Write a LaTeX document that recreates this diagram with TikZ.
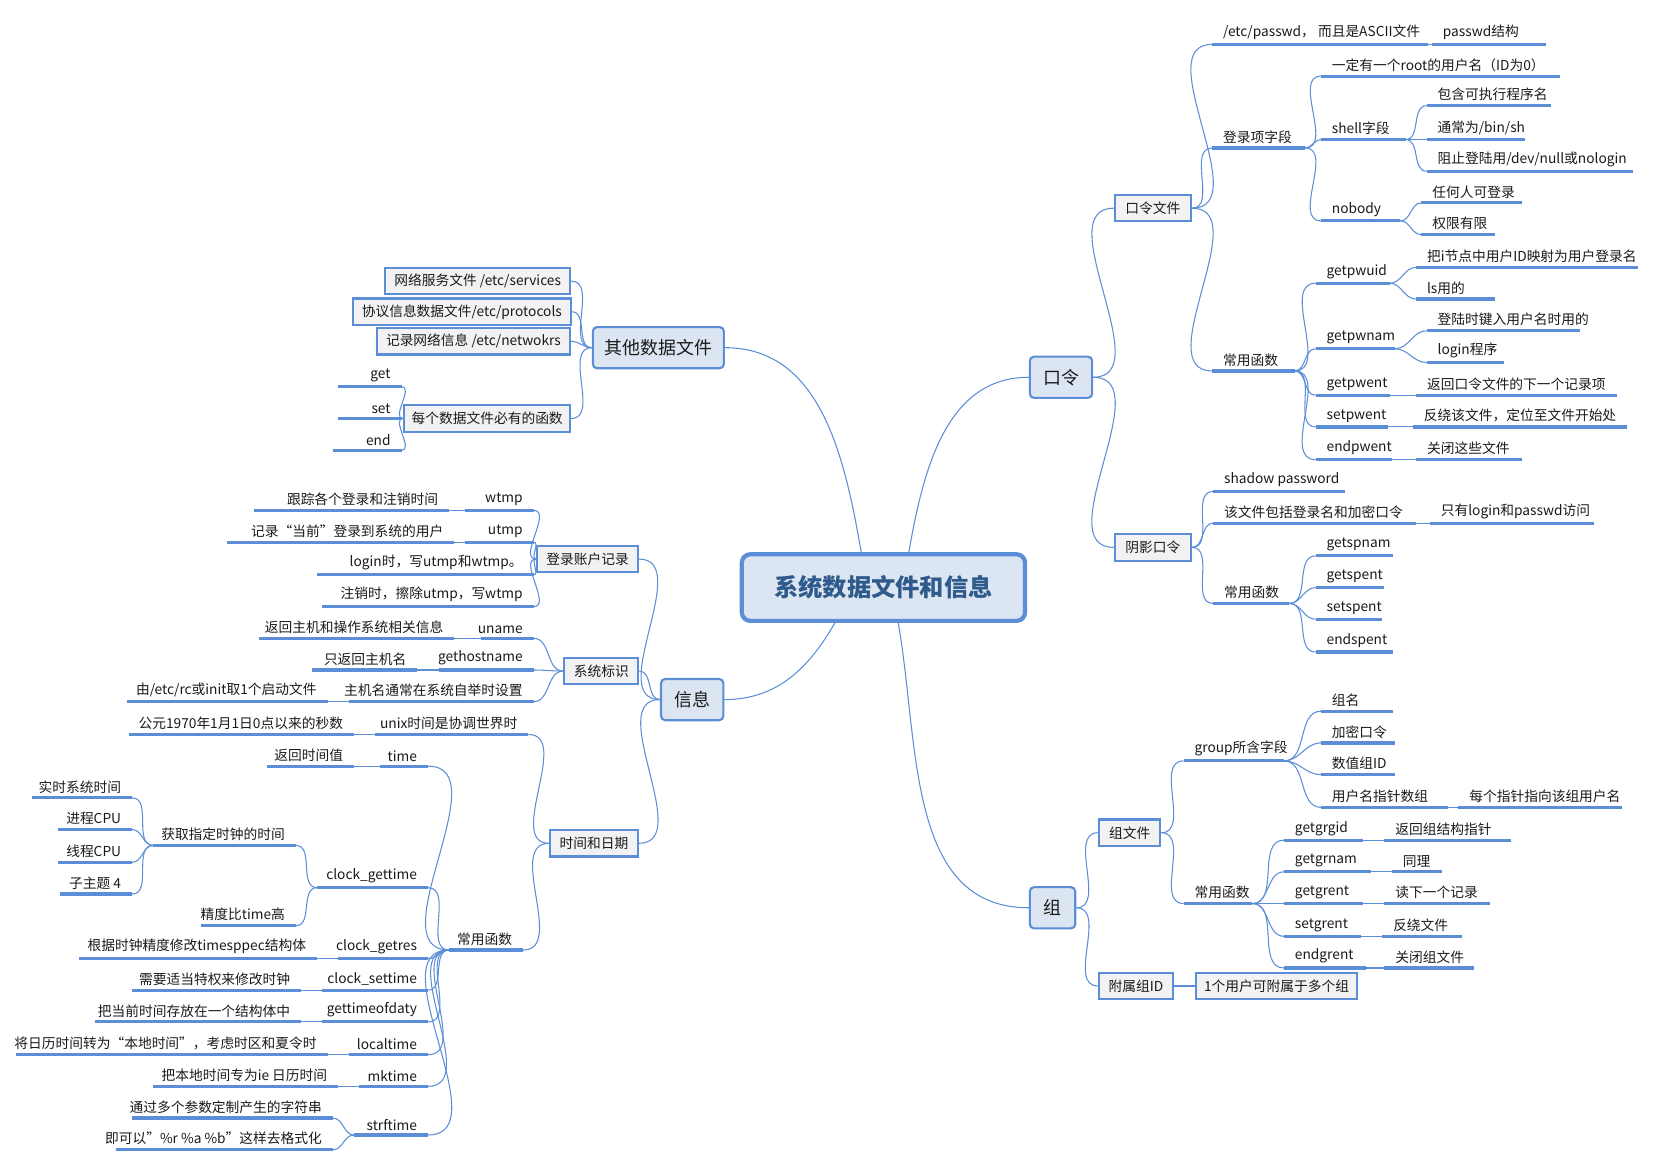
\documentclass[tikz,border=0pt]{standalone}
\usepackage{fontspec}
\setmainfont{Noto Sans CJK SC}
\definecolor{lb}{HTML}{5B8ED6}
\definecolor{txt}{HTML}{1A1A1A}
\definecolor{boxg}{HTML}{F2F2F2}
\definecolor{boxb}{HTML}{DCE6F2}
\definecolor{ctrt}{HTML}{2F5A8C}
\newcommand\RL[5]{\coordinate (#1-w) at (#2,#4);\coordinate (#1-e) at (#3,#4);\draw[ul] (#1-w)--(#1-e);\node[lt,anchor=south west] (#1) at ({#2+8},{#4-2}) {#5};}
\newcommand\LL[5]{\coordinate (#1-w) at (#2,#4);\coordinate (#1-e) at (#3,#4);\draw[ul] (#1-w)--(#1-e);\node[lt,anchor=south east] (#1) at ({#3-8},{#4-2}) {#5};}
\newcommand\cnR[2]{\draw[cn] (#1) to[out=0,in=180] (#2);}
\newcommand\cnL[2]{\draw[cn] (#1) to[out=180,in=0] (#2);}
\begin{document}
\begin{tikzpicture}[x=0.5pt,y=-0.5pt,
 ul/.style={line width=1.5pt,draw=lb},
 cn/.style={line width=0.5pt,draw=lb},
 lt/.style={font=\fontsize{6.5}{7}\selectfont,inner sep=1pt,text=txt},
 bx/.style={draw=lb,line width=1pt,fill=boxg,font=\fontsize{6.5}{7}\selectfont,inner sep=0pt,text=txt,minimum height=12.5pt},
 mb/.style={draw=lb,line width=1pt,fill=boxb,rounded corners=2pt,font=\fontsize{8.5}{9}\selectfont,inner sep=0pt,text=txt,minimum height=19.5pt}]
\useasboundingbox (0,0) rectangle (1568,1105);
% center
\node[draw=lb,line width=2pt,fill=boxb,rounded corners=4pt,minimum width=134pt,minimum height=31.5pt,font=\fontsize{11.5}{12}\selectfont\bfseries,text=ctrt] (ctr) at (836,556) {系统数据文件和信息};
\path (ctr.north) ++(-21,0) coordinate (c1) ++(45,0) coordinate (c2);
\path (ctr.south) ++(-46,0) coordinate (c3) ++(60,0) coordinate (c4);
\node[mb,minimum width=62pt] (other) at (623,329) {其他数据文件};
\node[mb,minimum width=29.5pt] (pw) at (1004,357) {口令};
\node[mb,minimum width=29.5pt] (info) at (655,662) {信息};
\node[mb,minimum width=21.5pt] (grp) at (996,859) {组};
\draw[cn] (c1) to[out=100,in=0] (other.east);
\draw[cn] (c2) to[out=80,in=180] (pw.west);
\draw[cn] (c3) to[out=-120,in=0] (info.east);
\draw[cn] (c4) to[out=-80,in=180] (grp.west);
% ===== 口令
\node[bx,minimum width=36pt] (pwf) at (1091,197) {口令文件};
\node[bx,minimum width=36pt] (shd) at (1091,518) {阴影口令};
\cnR{pw.east}{pwf.west}\cnR{pw.east}{shd.west}
\RL{etc}{1147}{1351}{42}{/etc/passwd， 而且是ASCII文件}
\RL{pst}{1355}{1463}{42}{passwd结构}
\draw[cn] (etc-e)--(pst-w);
\RL{dlx}{1147}{1235}{140}{登录项字段}
\RL{root}{1250}{1476}{72}{一定有一个root的用户名（ID为0）}
\RL{shl}{1250}{1330}{132}{shell字段}
\RL{sh1}{1350}{1468}{100}{包含可执行程序名}
\RL{sh2}{1350}{1443}{132}{通常为/bin/sh}
\RL{sh3}{1350}{1545}{162}{阻止登陆用/dev/null或nologin}
\RL{nob}{1250}{1325}{209}{nobody}
\RL{nb1}{1345}{1440}{192}{任何人可登录}
\RL{nb2}{1345}{1415}{222}{权限有限}
\RL{cyf}{1147}{1225}{351}{常用函数}
\RL{gpu}{1245}{1315}{268}{getpwuid}
\RL{gu1}{1340}{1550}{253}{把i节点中用户ID映射为用户登录名}
\RL{gu2}{1340}{1415}{283}{ls用的}
\RL{gpn}{1245}{1320}{330}{getpwnam}
\RL{gn1}{1350}{1495}{313}{登陆时键入用户名时用的}
\RL{gn2}{1350}{1423}{343}{login程序}
\RL{gpe}{1245}{1315}{374}{getpwent}
\RL{ge1}{1340}{1530}{374}{返回口令文件的下一个记录项}
\RL{spe}{1245}{1313}{404}{setpwent}
\RL{se1}{1337}{1540}{404}{反绕该文件，定位至文件开始处}
\RL{epe}{1245}{1317}{435}{endpwent}
\RL{ee1}{1340}{1440}{435}{关闭这些文件}
\cnR{pwf.east}{etc-w}\cnR{pwf.east}{dlx-w}\cnR{pwf.east}{cyf-w}
\cnR{dlx-e}{root-w}\cnR{dlx-e}{shl-w}\cnR{dlx-e}{nob-w}
\cnR{shl-e}{sh1-w}\cnR{shl-e}{sh2-w}\cnR{shl-e}{sh3-w}
\cnR{nob-e}{nb1-w}\cnR{nob-e}{nb2-w}
\cnR{cyf-e}{gpu-w}\cnR{cyf-e}{gpn-w}\cnR{cyf-e}{gpe-w}\cnR{cyf-e}{spe-w}\cnR{cyf-e}{epe-w}
\cnR{gpu-e}{gu1-w}\cnR{gpu-e}{gu2-w}\cnR{gpn-e}{gn1-w}\cnR{gpn-e}{gn2-w}
\draw[cn] (gpe-e)--(ge1-w);\draw[cn] (spe-e)--(se1-w);\draw[cn] (epe-e)--(ee1-w);
\RL{sp}{1148}{1273}{465}{shadow password}
\RL{sfi}{1148}{1340}{495}{该文件包括登录名和加密口令}
\RL{sfo}{1353}{1508}{495}{只有login和passwd访问}
\draw[cn] (sfi-e)--(sfo-w);
\RL{scy}{1148}{1220}{571}{常用函数}
\RL{s1}{1245}{1318}{526}{getspnam}
\RL{s2}{1245}{1310}{556}{getspent}
\RL{s3}{1245}{1308}{586}{setspent}
\RL{s4}{1245}{1318}{617}{endspent}
\cnR{shd.east}{sp-w}\cnR{shd.east}{sfi-w}\cnR{shd.east}{scy-w}
\cnR{scy-e}{s1-w}\cnR{scy-e}{s2-w}\cnR{scy-e}{s3-w}\cnR{scy-e}{s4-w}
% ===== 组
\node[bx,minimum width=29pt] (gf) at (1069,788) {组文件};
\node[bx,minimum width=35pt] (sub) at (1075,933) {附属组ID};
\node[bx,minimum width=76pt] (subx) at (1208,933) {1个用户可附属于多个组};
\cnR{grp.east}{gf.west}\cnR{grp.east}{sub.west}
\draw[cn] (sub.east)--(subx.west);
\RL{gfd}{1120}{1215}{720}{group所含字段}
\RL{f1}{1250}{1318}{673}{组名}
\RL{f2}{1250}{1320}{703}{加密口令}
\RL{f3}{1250}{1320}{733}{数值组ID}
\RL{f4}{1250}{1370}{764}{用户名指针数组}
\RL{f4x}{1380}{1535}{764}{每个指针指向该组用户名}
\draw[cn] (f4-e)--(f4x-w);
\RL{gcy}{1120}{1185}{855}{常用函数}
\RL{g1}{1215}{1290}{795}{getgrgid}\RL{g1x}{1310}{1430}{795}{返回组结构指针}
\RL{g2}{1215}{1297}{825}{getgrnam}\RL{g2x}{1317}{1365}{825}{同理}
\RL{g3}{1215}{1290}{855}{getgrent}\RL{g3x}{1310}{1410}{855}{读下一个记录}
\RL{g4}{1215}{1288}{886}{setgrent}\RL{g4x}{1308}{1383}{886}{反绕文件}
\RL{g5}{1215}{1293}{916}{endgrent}\RL{g5x}{1310}{1395}{916}{关闭组文件}
\cnR{gf.east}{gfd-w}\cnR{gf.east}{gcy-w}
\cnR{gfd-e}{f1-w}\cnR{gfd-e}{f2-w}\cnR{gfd-e}{f3-w}\cnR{gfd-e}{f4-w}
\cnR{gcy-e}{g1-w}\cnR{gcy-e}{g2-w}\cnR{gcy-e}{g3-w}\cnR{gcy-e}{g4-w}\cnR{gcy-e}{g5-w}
\draw[cn] (g1-e)--(g1x-w);\draw[cn] (g2-e)--(g2x-w);\draw[cn] (g3-e)--(g3x-w);\draw[cn] (g4-e)--(g4x-w);\draw[cn] (g5-e)--(g5x-w);
% ===== 其他数据文件
\node[bx,minimum width=87.5pt] (o1) at (452,266) {网络服务文件 /etc/services};
\node[bx,minimum width=103pt] (o2) at (437,295) {协议信息数据文件/etc/protocols};
\node[bx,minimum width=91.5pt] (o3) at (448,323) {记录网络信息 /etc/netwokrs};
\node[bx,minimum width=78.5pt] (o4) at (461,396) {每个数据文件必有的函数};
\cnL{other.west}{o1.east}\cnL{other.west}{o2.east}\cnL{other.west}{o3.east}\cnL{other.west}{o4.east}
\LL{get}{320}{380}{366}{get}
\LL{set}{320}{380}{396}{set}
\LL{end}{315}{380}{426}{end}
\cnL{o4.west}{get-e}\cnL{o4.west}{set-e}\cnL{o4.west}{end-e}
% ===== 信息
\node[bx,minimum width=47.5pt] (lr) at (556,529) {登录账户记录};
\node[bx,minimum width=35pt] (si) at (569,635) {系统标识};
\node[bx,minimum width=41.5pt] (td) at (562,798) {时间和日期};
\cnL{info.west}{lr.east}\cnL{info.west}{si.east}\cnL{info.west}{td.east}
\LL{wt}{440}{505}{483}{wtmp}\LL{wtx}{240}{425}{483}{跟踪各个登录和注销时间}
\LL{ut}{440}{505}{513}{utmp}\LL{utx}{215}{430}{513}{记录“当前”登录到系统的用户}
\LL{lg}{300}{505}{544}{login时，写utmp和wtmp。}
\LL{lo}{305}{505}{574}{注销时，擦除utmp，写wtmp}
\draw[cn] (wt-w)--(wtx-e);\draw[cn] (ut-w)--(utx-e);
\cnL{lr.west}{wt-e}\cnL{lr.west}{ut-e}\cnL{lr.west}{lg-e}\cnL{lr.west}{lo-e}
\LL{un}{455}{505}{604}{uname}\LL{unx}{245}{430}{604}{返回主机和操作系统相关信息}
\LL{gh}{415}{505}{634}{gethostname}\LL{ghx}{295}{395}{634}{只返回主机名}
\LL{hn}{330}{505}{664}{主机名通常在系统自举时设置}\LL{hnx}{120}{310}{664}{由/etc/rc或init取1个启动文件}
\draw[cn] (un-w)--(unx-e);\draw[cn] (gh-w)--(ghx-e);\draw[cn] (hn-w)--(hnx-e);
\cnL{si.west}{un-e}\cnL{si.west}{gh-e}\cnL{si.west}{hn-e}
\LL{ux}{355}{500}{695}{unix时间是协调世界时}\LL{uxx}{122}{335}{695}{公元1970年1月1日0点以来的秒数}
\draw[cn] (ux-w)--(uxx-e);
\LL{tcy}{425}{495}{899}{常用函数}
\cnL{td.west}{ux-e}\cnL{td.west}{tcy-e}
\LL{tm}{360}{405}{725}{time}\LL{tmx}{253}{335}{725}{返回时间值}
\LL{cg}{300}{405}{840}{clock\_gettime}
\LL{cgx}{145}{280}{800}{获取指定时钟的时间}
\LL{k1}{30}{125}{755}{实时系统时间}
\LL{k2}{55}{125}{785}{进程CPU}
\LL{k3}{55}{125}{816}{线程CPU}
\LL{k4}{57}{125}{846}{子主题 4}
\LL{cgy}{190}{280}{876}{精度比time高}
\LL{cr}{320}{405}{907}{clock\_getres}\LL{crx}{75}{300}{907}{根据时钟精度修改timesppec结构体}
\LL{cs}{305}{405}{937}{clock\_settime}\LL{csx}{125}{285}{937}{需要适当特权来修改时钟}
\LL{gt}{305}{405}{967}{gettimeofdaty}\LL{gtx}{90}{285}{967}{把当前时间存放在一个结构体中}
\LL{lt}{330}{405}{998}{localtime}\LL{ltx}{15}{310}{998}{将日历时间转为“本地时间”，考虑时区和夏令时}
\LL{mk}{340}{405}{1028}{mktime}\LL{mkx}{145}{320}{1028}{把本地时间专为ie 日历时间}
\LL{sf}{335}{405}{1074}{strftime}
\LL{sf1}{125}{315}{1058}{通过多个参数定制产生的字符串}
\LL{sf2}{110}{315}{1088}{即可以"\%r \%a \%b"这样去格式化}
\draw[cn] (tm-w)--(tmx-e);\draw[cn] (cr-w)--(crx-e);\draw[cn] (cs-w)--(csx-e);
\draw[cn] (gt-w)--(gtx-e);\draw[cn] (lt-w)--(ltx-e);\draw[cn] (mk-w)--(mkx-e);
\foreach \c in {tm,cg,cr,cs,gt,lt,mk,sf} {\cnL{tcy-w}{\c-e}}
\cnL{cg-w}{cgx-e}\cnL{cg-w}{cgy-e}
\foreach \c in {k1,k2,k3,k4} {\cnL{cgx-w}{\c-e}}
\cnL{sf-w}{sf1-e}\cnL{sf-w}{sf2-e}
\end{tikzpicture}
\end{document}
